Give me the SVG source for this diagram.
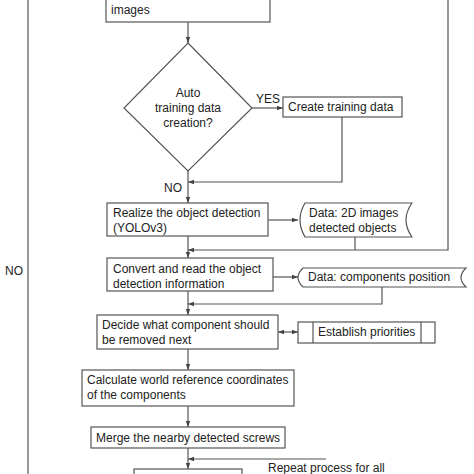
<svg xmlns="http://www.w3.org/2000/svg" width="474" height="474" viewBox="0 0 474 474">
<style>
.box{fill:#fff;stroke:#555;stroke-width:1.2}
.ln{fill:none;stroke:#555;stroke-width:1.2}
text{font-family:"Liberation Sans",Arial,sans-serif;font-size:12px;fill:#222}
.c{text-anchor:middle}
</style>
<defs>
<marker id="ar" viewBox="0 0 6 6" refX="6" refY="3" markerWidth="6" markerHeight="6" markerUnits="userSpaceOnUse" orient="auto">
<path d="M0,0.8 L6,3 L0,5.2 Z" fill="#444"/>
</marker>
<marker id="as" viewBox="0 0 6 6" refX="0" refY="3" markerWidth="6" markerHeight="6" markerUnits="userSpaceOnUse" orient="auto">
<path d="M6,0.8 L0,3 L6,5.2 Z" fill="#444"/>
</marker>
</defs>
<rect width="474" height="474" fill="#fff"/>
<g id="connectors">
<line class="ln" x1="28" y1="0" x2="28" y2="474"/>
<line class="ln" x1="188" y1="22" x2="188" y2="43" marker-end="url(#ar)"/>
<line class="ln" x1="252" y1="108" x2="283" y2="108" marker-end="url(#ar)"/>
<polyline class="ln" points="342,117 342,182 188,182" marker-end="url(#ar)"/>
<line class="ln" x1="188" y1="171" x2="188" y2="203" marker-end="url(#ar)"/>
<line class="ln" x1="268" y1="220" x2="298" y2="220" marker-end="url(#ar)"/>
<line class="ln" x1="355" y1="236" x2="355" y2="250"/>
<polyline class="ln" points="448,0 448,250 188,250" marker-end="url(#ar)"/>
<line class="ln" x1="188" y1="236" x2="188" y2="258" marker-end="url(#ar)"/>
<line class="ln" x1="273" y1="277" x2="298" y2="277" marker-end="url(#ar)"/>
<polyline class="ln" points="382,287 382,304 188,304" marker-end="url(#ar)"/>
<line class="ln" x1="188" y1="291" x2="188" y2="315" marker-end="url(#ar)"/>
<line class="ln" x1="278" y1="332" x2="298" y2="332" marker-start="url(#as)" marker-end="url(#ar)"/>
<line class="ln" x1="188" y1="349" x2="188" y2="370" marker-end="url(#ar)"/>
<line class="ln" x1="188" y1="406" x2="188" y2="427" marker-end="url(#ar)"/>
<line class="ln" x1="188" y1="448" x2="188" y2="469" marker-end="url(#ar)"/>
<line class="ln" x1="326" y1="459" x2="188" y2="459" marker-end="url(#ar)"/>
</g>
<g id="label-no-left"><text x="5" y="275">NO</text></g>
<g id="label-yes"><text x="256" y="103">YES</text></g>
<g id="label-no"><text x="164" y="192">NO</text></g>
<g id="start">
<rect class="box" x="106" y="-20" width="164" height="42"/>
<text x="111" y="14">images</text>
</g>
<g id="decision">
<polygon class="box" points="188,43 252,108 188,171 124,108"/>
<text class="c" x="188" y="97">Auto</text>
<text class="c" x="188" y="112">training data</text>
<text class="c" x="188" y="127">creation?</text>
</g>
<g id="create">
<rect class="box" x="283" y="97" width="119" height="20"/>
<text x="288" y="111">Create training data</text>
</g>
<g id="realize">
<rect class="box" x="107" y="203" width="161" height="33"/>
<text x="113" y="217">Realize the object detection</text>
<text x="113" y="232">(YOLOv3)</text>
</g>
<g id="data-2d">
<path class="box" d="M305,203 L412,203 Q400,220 412,237 L305,237 Q295,220 305,203 Z"/>
<text x="309" y="217">Data: 2D images</text>
<text x="309" y="232">detected objects</text>
</g>
<g id="convert">
<rect class="box" x="107" y="258" width="166" height="33"/>
<text x="113" y="273">Convert and read the object</text>
<text x="113" y="288">detection information</text>
</g>
<g id="data-pos">
<path class="box" d="M303,268 L466,268 Q456,277.5 466,287 L303,287 Q293,277.5 303,268 Z"/>
<text x="308" y="281">Data: components position</text>
</g>
<g id="decide">
<rect class="box" x="97" y="315" width="181" height="34"/>
<text x="102" y="329">Decide what component should</text>
<text x="102" y="344">be removed next</text>
</g>
<g id="priorities">
<rect class="box" x="298" y="322" width="137" height="21"/>
<line class="ln" x1="313" y1="322" x2="313" y2="343"/>
<line class="ln" x1="421" y1="322" x2="421" y2="343"/>
<text x="318" y="336">Establish priorities</text>
</g>
<g id="calculate">
<rect class="box" x="82" y="370" width="212" height="36"/>
<text x="87" y="384">Calculate world reference coordinates</text>
<text x="87" y="399">of the components</text>
</g>
<g id="merge">
<rect class="box" x="91" y="427" width="194" height="21"/>
<text x="96" y="442">Merge the nearby detected screws</text>
</g>
<g id="next">
<rect class="box" x="134" y="469" width="108" height="20"/>
</g>
<g id="label-repeat"><text x="268" y="472">Repeat process for all</text></g>
</svg>
